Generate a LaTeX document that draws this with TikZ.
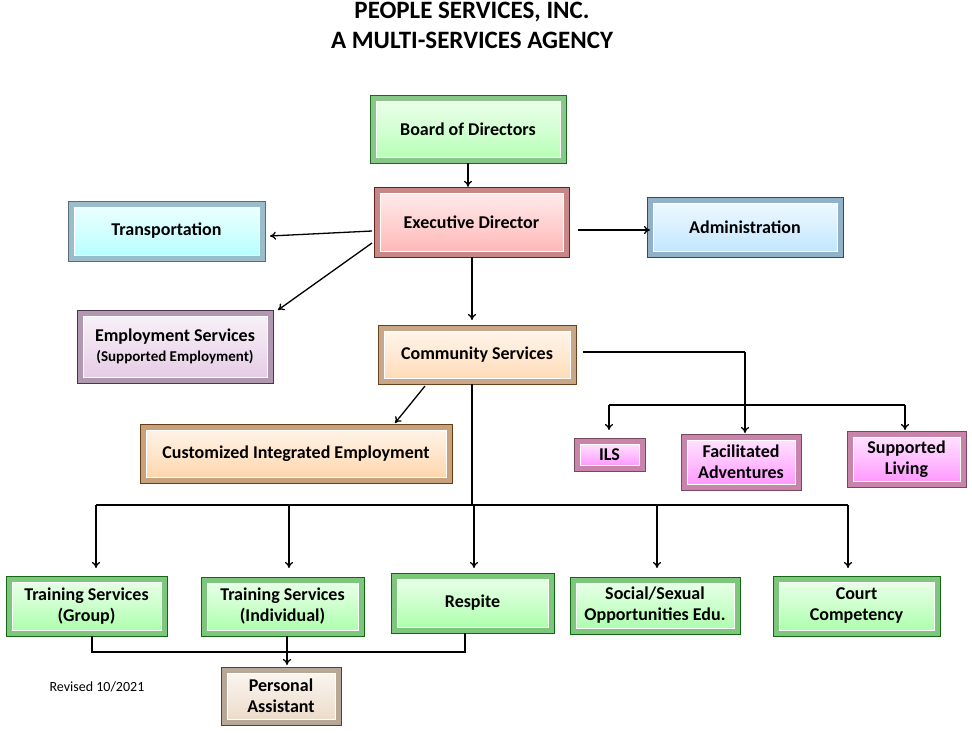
\documentclass[tikz,border=0pt]{standalone}
\usepackage{fontspec}
\setmainfont{Carlito}
\usetikzlibrary{arrows.meta,calc}
\tikzset{
  lbl/.style={font=\bfseries\fontsize{18}{21}\selectfont, align=center},
  con/.style={line width=1.3pt, -{To[length=6pt,width=8pt]}},
  ln/.style={line width=1.3pt}
}
\newcommand{\bevbox}[7]{% name, x1,y1,x2,y2, base colour, text
  \fill[#6!45!gray!80!white] (#2,#3) rectangle (#4,#5);
  \shade[top color=#6!12!white, bottom color=#6!40!white, middle color=#6!25!white] ($(#2,#3)+(6,6)$) rectangle ($(#4,#5)+(-6,-6)$);
  \draw[#6!40!black, line width=0.6pt] (#2,#3) rectangle (#4,#5);
  \draw[white, line width=0.5pt] ($(#2,#3)+(6,6)$) rectangle ($(#4,#5)+(-6,-6)$);
  \node[lbl, inner sep=0pt, minimum width={#4-#2}, minimum height={#5-#3}] (#1) at ({(#2+#4)/2},{(#3+#5)/2}) {#7};
}
\begin{document}
\begin{tikzpicture}[x=1pt,y=-1pt]
\useasboundingbox (0,0) rectangle (972,732);
\node[font=\bfseries\fontsize{25}{28}\selectfont] (t1) at (472,12) {PEOPLE SERVICES, INC.};
\node[font=\bfseries\fontsize{25}{28}\selectfont] (t2) at (472,40) {A MULTI-SERVICES AGENCY};
\node[font=\fontsize{14}{16}\selectfont] (rev) at (97,687) {Revised 10/2021};
\bevbox{board}{370}{95}{566}{163}{green!70!white}{Board of Directors}
\bevbox{exec}{374}{187}{569}{257}{red!70!white}{Executive Director}
\bevbox{trans}{68}{201}{265}{261}{cyan!70!white}{Transportation}
\bevbox{admin}{647}{197}{843}{257}{blue!40!cyan!60!white}{Administration}
\bevbox{emp}{77}{310}{273}{383}{violet!50!white}{Employment Services\\[-1pt]{\fontsize{15}{17}\selectfont (Supported Employment)}}
\bevbox{comm}{378}{325}{576}{384}{orange!70!white}{Community Services}
\bevbox{cie}{140}{424}{452}{483}{orange!80!white}{Customized Integrated Employment}
\bevbox{ils}{574}{438}{645}{471}{magenta}{ILS}
\bevbox{fac}{681}{434}{801}{490}{magenta}{Facilitated\\Adventures}
\bevbox{sl}{847}{431}{966}{487}{magenta}{Supported\\Living}
\bevbox{tg}{6}{576}{167}{636}{green!80!white}{Training Services\\(Group)}
\bevbox{ti}{201}{577}{364}{636}{green!80!white}{Training Services\\(Individual)}
\bevbox{resp}{391}{573}{554}{633}{green!80!white}{Respite}
\bevbox{soc}{570}{577}{740}{634}{green!80!white}{Social/Sexual\\Opportunities Edu.}
\bevbox{court}{773}{576}{940}{636}{green!80!white}{Court\\Competency}
\bevbox{pa}{221}{667}{341}{725}{brown!70!white}{Personal\\Assistant}
\draw[con] (468,163) -- (board.south |- exec.north);
\draw[con] (372,231) -- (270,236);
\draw[con] (372,243) -- (278,310);
\draw[con] (578,230) -- (650,230);
\draw[con] (472,257) -- (472,320);
\draw[con] (425,386) -- (395,423);
\draw[ln] (583,352) -- (745,352);
\draw[con] (745,352) -- (745,433);
\draw[ln] (609,405) -- (905,405);
\draw[con] (609,405) -- (609,430);
\draw[con] (905,405) -- (905,430);
\draw[ln] (472,384) -- (472,505);
\draw[ln] (96,505) -- (848,505);
\foreach \x in {96,289,474,657,848} \draw[con] (\x,505) -- (\x,568);
\draw[ln] (92,636) -- (92,652) -- (465,652) -- (465,633);
\draw[con] (287,636) -- (287,665);
\end{tikzpicture}
\end{document}
